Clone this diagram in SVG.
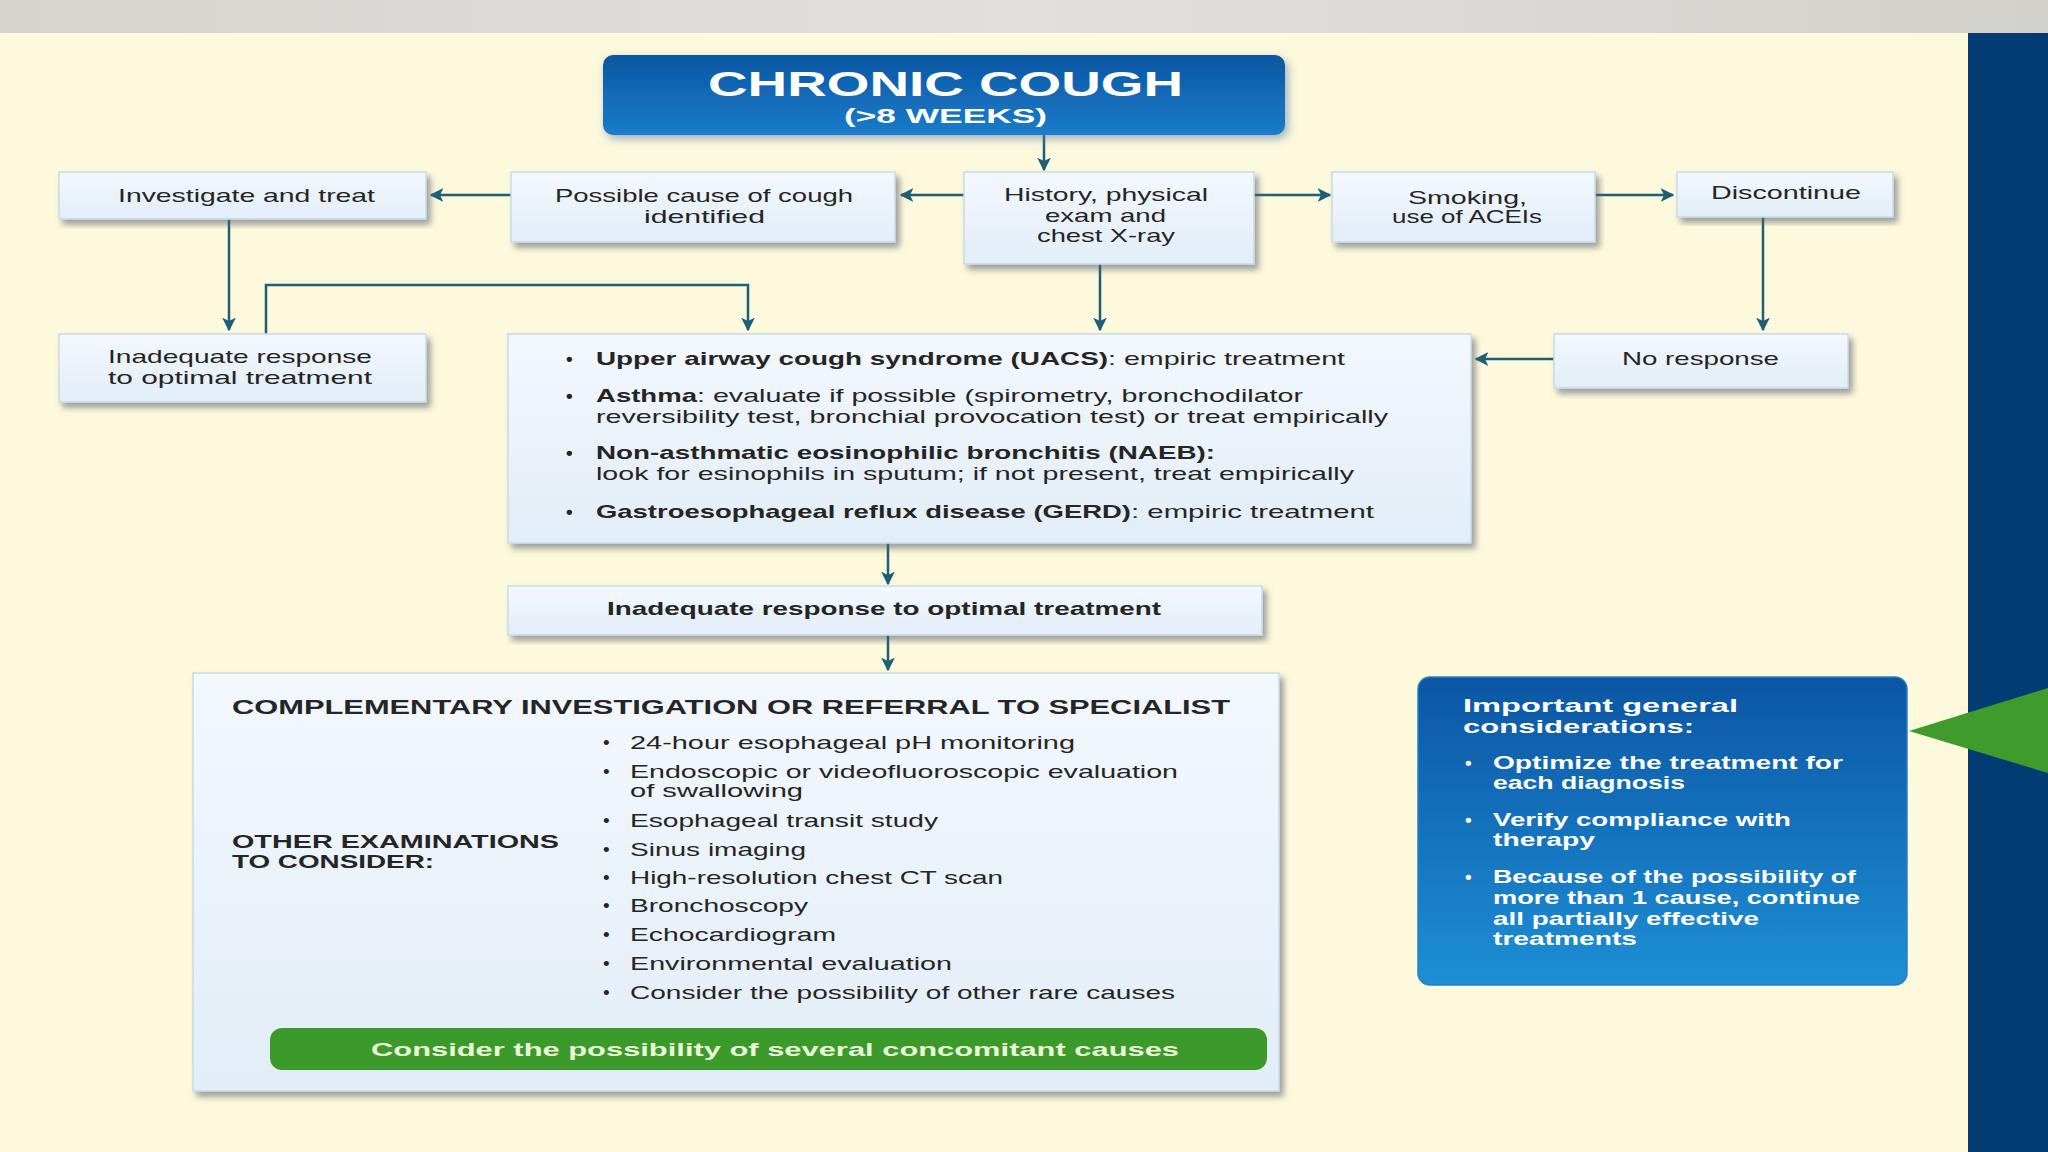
<svg xmlns="http://www.w3.org/2000/svg" width="2048" height="1152" viewBox="0 0 2048 1152">
<defs>
<style>
.t{font-family:"Liberation Sans",Arial,sans-serif;font-size:19px;fill:#252525}
.b{font-weight:bold}
.w{fill:#ffffff}
.box{fill:url(#boxg);stroke:#c9dbe9;stroke-width:1.5;filter:url(#sh)}
.c{fill:none;stroke:#1d5f79;stroke-width:2.5}
</style>
<linearGradient id="boxg" x1="0" y1="0" x2="0" y2="1"><stop offset="0" stop-color="#f3f8fd"/><stop offset="1" stop-color="#e2edf7"/></linearGradient>
<linearGradient id="titleg" x1="0" y1="0" x2="0" y2="1"><stop offset="0" stop-color="#0b57a3"/><stop offset="1" stop-color="#1b7cca"/></linearGradient>
<linearGradient id="blueg" x1="0" y1="0" x2="0" y2="1"><stop offset="0" stop-color="#0c56a4"/><stop offset="1" stop-color="#1d8fd5"/></linearGradient>
<linearGradient id="topg" x1="0" y1="0" x2="1" y2="0"><stop offset="0" stop-color="#d6d4cf"/><stop offset="0.5" stop-color="#e2e0dc"/><stop offset="1" stop-color="#d3d1cc"/></linearGradient>
<filter id="sh" x="-5%" y="-10%" width="115%" height="130%"><feDropShadow dx="4" dy="5" stdDeviation="3" flood-color="#5a6470" flood-opacity="0.6"/></filter>
<filter id="glow" x="-5%" y="-15%" width="110%" height="140%"><feDropShadow dx="3" dy="4" stdDeviation="5" flood-color="#5b7ea8" flood-opacity="0.6"/></filter>
<marker id="ah" viewBox="0 0 10 10" refX="9" refY="5" markerWidth="5.5" markerHeight="5.5" orient="auto"><path d="M0,0 L10,5 L0,10 L2.5,5 Z" fill="#1d5f79"/></marker>
</defs>
<rect x="0" y="0" width="2048" height="1152" fill="#fdf9dc"/>
<rect x="0" y="0" width="2048" height="33" fill="url(#topg)"/>
<rect x="1968" y="33" width="80" height="1119" fill="#033b73"/>
<polygon points="1909,731 2048,688 2048,773" fill="#3f9b2c"/>

<g id="connectors">
<path class="c" d="M1044,135 V170" marker-end="url(#ah)"/>
<path class="c" d="M964,195 H901" marker-end="url(#ah)"/>
<path class="c" d="M511,195 H431" marker-end="url(#ah)"/>
<path class="c" d="M1254,195 H1330" marker-end="url(#ah)"/>
<path class="c" d="M1595,195 H1673" marker-end="url(#ah)"/>
<path class="c" d="M229,219 V330" marker-end="url(#ah)"/>
<path class="c" d="M266,334 V285 H748 V330" marker-end="url(#ah)"/>
<path class="c" d="M1100,264 V330" marker-end="url(#ah)"/>
<path class="c" d="M1763,217 V330" marker-end="url(#ah)"/>
<path class="c" d="M1554,359 H1476" marker-end="url(#ah)"/>
<path class="c" d="M888,543 V584" marker-end="url(#ah)"/>
<path class="c" d="M888,635 V670" marker-end="url(#ah)"/>
</g>

<g id="title">
<rect x="603" y="55" width="682" height="80" rx="10" fill="url(#titleg)" filter="url(#glow)"/>
<text class="t b w" x="708" y="96" style="font-size:35px" textLength="475" lengthAdjust="spacingAndGlyphs">CHRONIC COUGH</text>
<text class="t b w" x="844" y="123" style="font-size:21px" textLength="203" lengthAdjust="spacingAndGlyphs">(&gt;8 WEEKS)</text>
</g>

<g id="investigate">
<rect class="box" x="59" y="172" width="367" height="47"/>
<text class="t" x="118" y="202" textLength="257" lengthAdjust="spacingAndGlyphs">Investigate and treat</text>
</g>

<g id="possible-cause">
<rect class="box" x="511" y="172" width="384" height="70"/>
<text class="t" x="555" y="202" textLength="298" lengthAdjust="spacingAndGlyphs">Possible cause of cough</text>
<text class="t" x="644" y="223" textLength="121" lengthAdjust="spacingAndGlyphs">identified</text>
</g>

<g id="history">
<rect class="box" x="964" y="172" width="290" height="92"/>
<text class="t" x="1004" y="201" textLength="204" lengthAdjust="spacingAndGlyphs">History, physical</text>
<text class="t" x="1045" y="222" textLength="121" lengthAdjust="spacingAndGlyphs">exam and</text>
<text class="t" x="1037" y="242" textLength="138" lengthAdjust="spacingAndGlyphs">chest X-ray</text>
</g>

<g id="smoking">
<rect class="box" x="1332" y="172" width="263" height="70"/>
<text class="t" x="1408" y="204" textLength="119" lengthAdjust="spacingAndGlyphs">Smoking,</text>
<text class="t" x="1392" y="223" textLength="150" lengthAdjust="spacingAndGlyphs">use of ACEIs</text>
</g>

<g id="discontinue">
<rect class="box" x="1677" y="172" width="216" height="45"/>
<text class="t" x="1711" y="199" textLength="150" lengthAdjust="spacingAndGlyphs">Discontinue</text>
</g>

<g id="inadequate-left">
<rect class="box" x="59" y="334" width="367" height="68"/>
<text class="t" x="108" y="363" textLength="264" lengthAdjust="spacingAndGlyphs">Inadequate response</text>
<text class="t" x="108" y="384" textLength="264" lengthAdjust="spacingAndGlyphs">to optimal treatment</text>
</g>

<g id="diagnoses">
<rect class="box" x="508" y="334" width="963" height="209"/>
<text class="t b" x="566" y="365">•</text>
<text class="t b" x="596" y="365" textLength="512" lengthAdjust="spacingAndGlyphs">Upper airway cough syndrome (UACS)</text>
<text class="t" x="1108" y="365" textLength="237" lengthAdjust="spacingAndGlyphs">: empiric treatment</text>
<text class="t b" x="566" y="402">•</text>
<text class="t b" x="596" y="402" textLength="101" lengthAdjust="spacingAndGlyphs">Asthma</text>
<text class="t" x="697" y="402" textLength="606" lengthAdjust="spacingAndGlyphs">: evaluate if possible (spirometry, bronchodilator</text>
<text class="t" x="596" y="423" textLength="792" lengthAdjust="spacingAndGlyphs">reversibility test, bronchial provocation test) or treat empirically</text>
<text class="t b" x="566" y="459">•</text>
<text class="t b" x="596" y="459" textLength="619" lengthAdjust="spacingAndGlyphs">Non-asthmatic eosinophilic bronchitis (NAEB):</text>
<text class="t" x="596" y="480" textLength="758" lengthAdjust="spacingAndGlyphs">look for esinophils in sputum; if not present, treat empirically</text>
<text class="t b" x="566" y="518">•</text>
<text class="t b" x="596" y="518" textLength="535" lengthAdjust="spacingAndGlyphs">Gastroesophageal reflux disease (GERD)</text>
<text class="t" x="1131" y="518" textLength="243" lengthAdjust="spacingAndGlyphs">: empiric treatment</text>
</g>

<g id="no-response">
<rect class="box" x="1554" y="334" width="294" height="54"/>
<text class="t" x="1622" y="365" textLength="157" lengthAdjust="spacingAndGlyphs">No response</text>
</g>

<g id="inadequate-center">
<rect class="box" x="508" y="586" width="754" height="49"/>
<text class="t b" x="607" y="615" textLength="554" lengthAdjust="spacingAndGlyphs">Inadequate response to optimal treatment</text>
</g>

<g id="complementary">
<rect class="box" x="193" y="673" width="1086" height="418"/>
<text class="t b" x="232" y="714" style="font-size:20px" textLength="998" lengthAdjust="spacingAndGlyphs">COMPLEMENTARY INVESTIGATION OR REFERRAL TO SPECIALIST</text>
<text class="t b" x="232" y="848" textLength="327" lengthAdjust="spacingAndGlyphs">OTHER EXAMINATIONS</text>
<text class="t b" x="232" y="868" textLength="202" lengthAdjust="spacingAndGlyphs">TO CONSIDER:</text>
<text class="t" x="603" y="749">•</text><text class="t" x="630" y="749" textLength="445" lengthAdjust="spacingAndGlyphs">24-hour esophageal pH monitoring</text>
<text class="t" x="603" y="778">•</text><text class="t" x="630" y="778" textLength="548" lengthAdjust="spacingAndGlyphs">Endoscopic or videofluoroscopic evaluation</text>
<text class="t" x="630" y="797" textLength="173" lengthAdjust="spacingAndGlyphs">of swallowing</text>
<text class="t" x="603" y="827">•</text><text class="t" x="630" y="827" textLength="308" lengthAdjust="spacingAndGlyphs">Esophageal transit study</text>
<text class="t" x="603" y="856">•</text><text class="t" x="630" y="856" textLength="176" lengthAdjust="spacingAndGlyphs">Sinus imaging</text>
<text class="t" x="603" y="884">•</text><text class="t" x="630" y="884" textLength="373" lengthAdjust="spacingAndGlyphs">High-resolution chest CT scan</text>
<text class="t" x="603" y="912">•</text><text class="t" x="630" y="912" textLength="178" lengthAdjust="spacingAndGlyphs">Bronchoscopy</text>
<text class="t" x="603" y="941">•</text><text class="t" x="630" y="941" textLength="206" lengthAdjust="spacingAndGlyphs">Echocardiogram</text>
<text class="t" x="603" y="970">•</text><text class="t" x="630" y="970" textLength="322" lengthAdjust="spacingAndGlyphs">Environmental evaluation</text>
<text class="t" x="603" y="999">•</text><text class="t" x="630" y="999" textLength="545" lengthAdjust="spacingAndGlyphs">Consider the possibility of other rare causes</text>
<rect x="270" y="1028" width="997" height="42" rx="12" fill="#3c9a2b"/>
<text class="t b" x="371" y="1056" style="fill:#e9f6d8" textLength="808" lengthAdjust="spacingAndGlyphs">Consider the possibility of several concomitant causes</text>
</g>

<g id="considerations">
<rect x="1418" y="677" width="489" height="308" rx="12" fill="url(#blueg)" stroke="#2a7fc4" stroke-width="1.5"/>
<text class="t b w" x="1463" y="712" textLength="275" lengthAdjust="spacingAndGlyphs">Important general</text>
<text class="t b w" x="1463" y="733" textLength="231" lengthAdjust="spacingAndGlyphs">considerations:</text>
<text class="t b w" x="1465" y="769">•</text>
<text class="t b w" x="1493" y="769" textLength="350" lengthAdjust="spacingAndGlyphs">Optimize the treatment for</text>
<text class="t b w" x="1493" y="789" textLength="192" lengthAdjust="spacingAndGlyphs">each diagnosis</text>
<text class="t b w" x="1465" y="826">•</text>
<text class="t b w" x="1493" y="826" textLength="298" lengthAdjust="spacingAndGlyphs">Verify compliance with</text>
<text class="t b w" x="1493" y="846" textLength="102" lengthAdjust="spacingAndGlyphs">therapy</text>
<text class="t b w" x="1465" y="883">•</text>
<text class="t b w" x="1493" y="883" textLength="363" lengthAdjust="spacingAndGlyphs">Because of the possibility of</text>
<text class="t b w" x="1493" y="904" textLength="367" lengthAdjust="spacingAndGlyphs">more than 1 cause, continue</text>
<text class="t b w" x="1493" y="925" textLength="266" lengthAdjust="spacingAndGlyphs">all partially effective</text>
<text class="t b w" x="1493" y="945" textLength="144" lengthAdjust="spacingAndGlyphs">treatments</text>
</g>
</svg>
